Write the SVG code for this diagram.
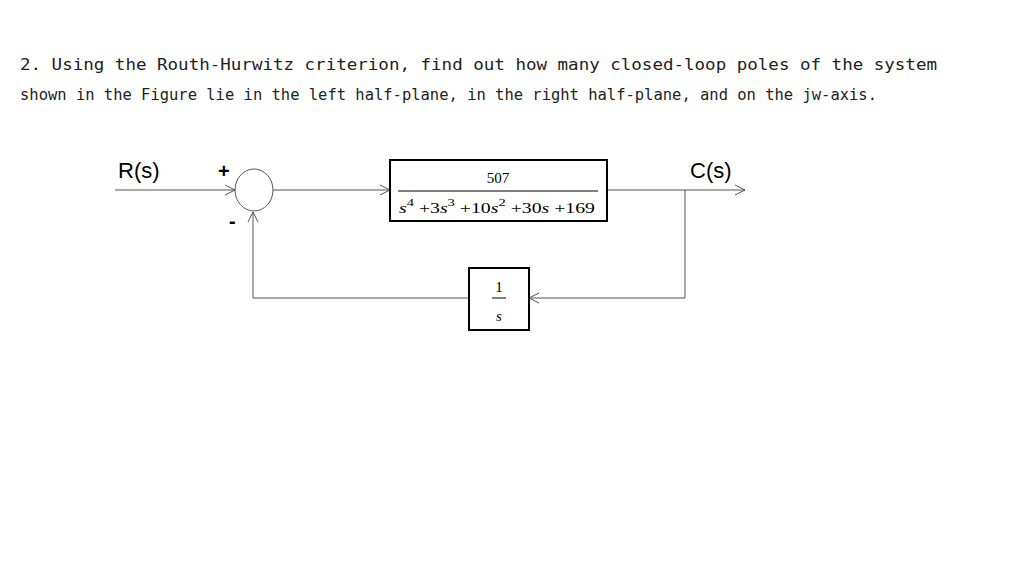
<svg xmlns="http://www.w3.org/2000/svg" width="1024" height="576" viewBox="0 0 1024 576">
<style>
.t{font-family:"DejaVu Sans Mono","Liberation Mono",monospace;font-size:16px;fill:#222}
.l{font-family:"Liberation Sans",Arial,sans-serif;font-size:22px;fill:#000}
.m{font-family:"Liberation Serif","Times New Roman",serif;font-size:15px;fill:#000}
.w{stroke:#555;stroke-width:1;fill:none}
.b{stroke:#000;stroke-width:2;fill:#fff}
</style>
<defs><marker id="a" markerWidth="12" markerHeight="12" refX="11" refY="6" orient="auto" markerUnits="userSpaceOnUse"><path d="M1,1 L11,6 L1,11" fill="none" stroke="#555"/></marker></defs>
<rect width="1024" height="576" fill="#fff"/>
<text class="t" x="20" y="70" textLength="917" lengthAdjust="spacingAndGlyphs">2. Using the Routh-Hurwitz criterion, find out how many closed-loop poles of the system</text>
<text class="t" x="20" y="100" textLength="857" lengthAdjust="spacingAndGlyphs">shown in the Figure lie in the left half-plane, in the right half-plane, and on the jw-axis.</text>
<g id="connectors">
<path class="w" d="M115,190 H235" marker-end="url(#a)"/>
<path class="w" d="M273,190 H390" marker-end="url(#a)"/>
<path class="w" d="M607,190 H745" marker-end="url(#a)"/>
<path class="w" d="M685,190 V298 H529" marker-end="url(#a)"/>
<path class="w" d="M469,298 H253 V212" marker-end="url(#a)"/>
</g>
<g id="sum"><ellipse cx="254" cy="190" rx="19" ry="21" fill="#fff" stroke="#555"/></g>
<g id="labels">
<text class="l" x="118" y="178">R(s)</text>
<text class="l" x="690" y="178">C(s)</text>
<text x="218" y="178" font-family="Liberation Sans,sans-serif" font-size="20" font-weight="bold">+</text>
<text x="229" y="228" font-family="Liberation Sans,sans-serif" font-size="20" font-weight="bold">-</text>
</g>
<g id="G">
<rect class="b" x="390" y="160" width="217" height="61"/>
<text class="m" x="498" y="183" text-anchor="middle">507</text>
<line x1="398" y1="191" x2="598" y2="191" stroke="#000"/>
<text class="m" x="399" y="213" font-size="17" textLength="196" lengthAdjust="spacingAndGlyphs"><tspan font-style="italic">s</tspan><tspan font-size="11" dy="-7">4</tspan><tspan dy="7"> +3</tspan><tspan font-style="italic">s</tspan><tspan font-size="11" dy="-7">3</tspan><tspan dy="7"> +10</tspan><tspan font-style="italic">s</tspan><tspan font-size="11" dy="-7">2</tspan><tspan dy="7"> +30</tspan><tspan font-style="italic">s</tspan><tspan> +169</tspan></text>
</g>
<g id="H">
<rect class="b" x="469" y="268" width="60" height="62"/>
<text class="m" x="499" y="292" text-anchor="middle" font-size="14">1</text>
<line x1="492" y1="298" x2="506" y2="298" stroke="#000"/>
<text class="m" x="499" y="321" text-anchor="middle" font-size="14" font-style="italic">s</text>
</g>
</svg>
